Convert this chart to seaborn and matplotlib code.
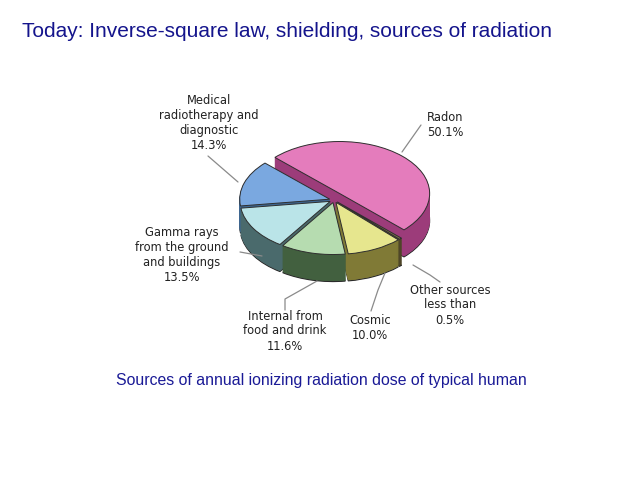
import numpy as np
import matplotlib.pyplot as plt
import seaborn as sns

# data
sources = ["Radon", "Other sources", "Cosmic", "Internal", "Gamma rays", "Medical"]
shares = [50.1, 0.5, 10.0, 11.6, 13.5, 14.3]
label_texts = [
    "Radon\n50.1%",
    "Other sources\nless than\n0.5%",
    "Cosmic\n10.0%",
    "Internal from\nfood and drink\n11.6%",
    "Gamma rays\nfrom the ground\nand buildings\n13.5%",
    "Medical\nradiotherapy and\ndiagnostic\n14.3%",
]

top_colors = ["#e47cbc", "#7c6e48", "#e6e68e", "#b6dcb0", "#bae4e8", "#7aa8e0"]
side_colors = ["#9c3c7a", "#4e4628", "#807a36", "#42603f", "#4a6a6c", "#3e6690"]
explode = [0.09, 0.05, 0.05, 0.05, 0.05, 0.05]
lift = [0.06, 0, 0, 0, 0, 0]

W, H = 638, 478
sns.set_theme(style="white")
plt.rcParams["font.family"] = ["DejaVu Sans"]
fig = plt.figure(figsize=(W / 100, H / 100), dpi=100)
fig.patch.set_facecolor("white")

# pie axes: 90 px per unit in x, 52 px per unit in y -> tilted look
cx, cy = 334, 200
left, right, top, bottom = cx - 150, cx + 150, cy - 100, cy + 100
ax = fig.add_axes([left / W, 1 - bottom / H, (right - left) / W, (bottom - top) / H])

thick = 0.52
n_layers = 28
levels = np.linspace(-thick, 0, n_layers)
for i, lev in enumerate(levels):
    is_top = i == n_layers - 1
    cols = top_colors if is_top else side_colors
    wedges, _ = ax.pie(shares, colors=cols, startangle=136, counterclock=False,
                       explode=explode, center=(0, lev), radius=1.0,
                       wedgeprops=dict(linewidth=0.7 if is_top else 0.5,
                                       edgecolor="#2e2e2e" if is_top else None))
    for w, c, up in zip(wedges, cols, lift):
        if not is_top:
            w.set_edgecolor(c)
        if i == 0:
            w.set_edgecolor("#2a2a2a")
            w.set_linewidth(0.8)
        if up:
            x0, y0 = w.center
            w.set_center((x0, y0 + up))

ax.set_aspect("auto")
ax.set_xlim(-150 / 90, 150 / 90)
ax.set_ylim(-100 / 52, 100 / 52)
ax.axis("off")

# overlay in pixel coordinates for text and leader lines
ov = fig.add_axes([0, 0, 1, 1])
ov.set_xlim(0, W)
ov.set_ylim(H, 0)
ov.axis("off")
ov.patch.set_alpha(0)

ov.text(22, 31, "Today: Inverse-square law, shielding, sources of radiation",
        family="Liberation Sans", fontsize=15.0, color="#14148c", va="center", ha="left")
ov.text(321, 381, "Sources of annual ionizing radiation dose of typical human",
        family="Liberation Sans", fontsize=11.4, color="#1a1a96", va="center", ha="center")

label_pos = [(445, 125), (450, 305), (370, 328), (285, 331), (182, 255), (209, 123)]
leaders = [
    [(421, 125), (402, 152)],
    [(440, 282), (430, 275), (413, 265)],
    [(371, 311), (378, 290), (385, 273)],
    [(285, 310), (285, 299), (317, 281)],
    [(240, 252), (262, 256)],
    [(208, 156), (238, 182)],
]
for txt, (x, y), pts in zip(label_texts, label_pos, leaders):
    ov.text(x, y, txt, fontsize=8.3, color="#222222", ha="center", va="center",
            linespacing=1.2)
    xs, ys = zip(*pts)
    ov.plot(xs, ys, color="#8a8a8a", lw=0.9)

fig.savefig("out.png", dpi=100)
